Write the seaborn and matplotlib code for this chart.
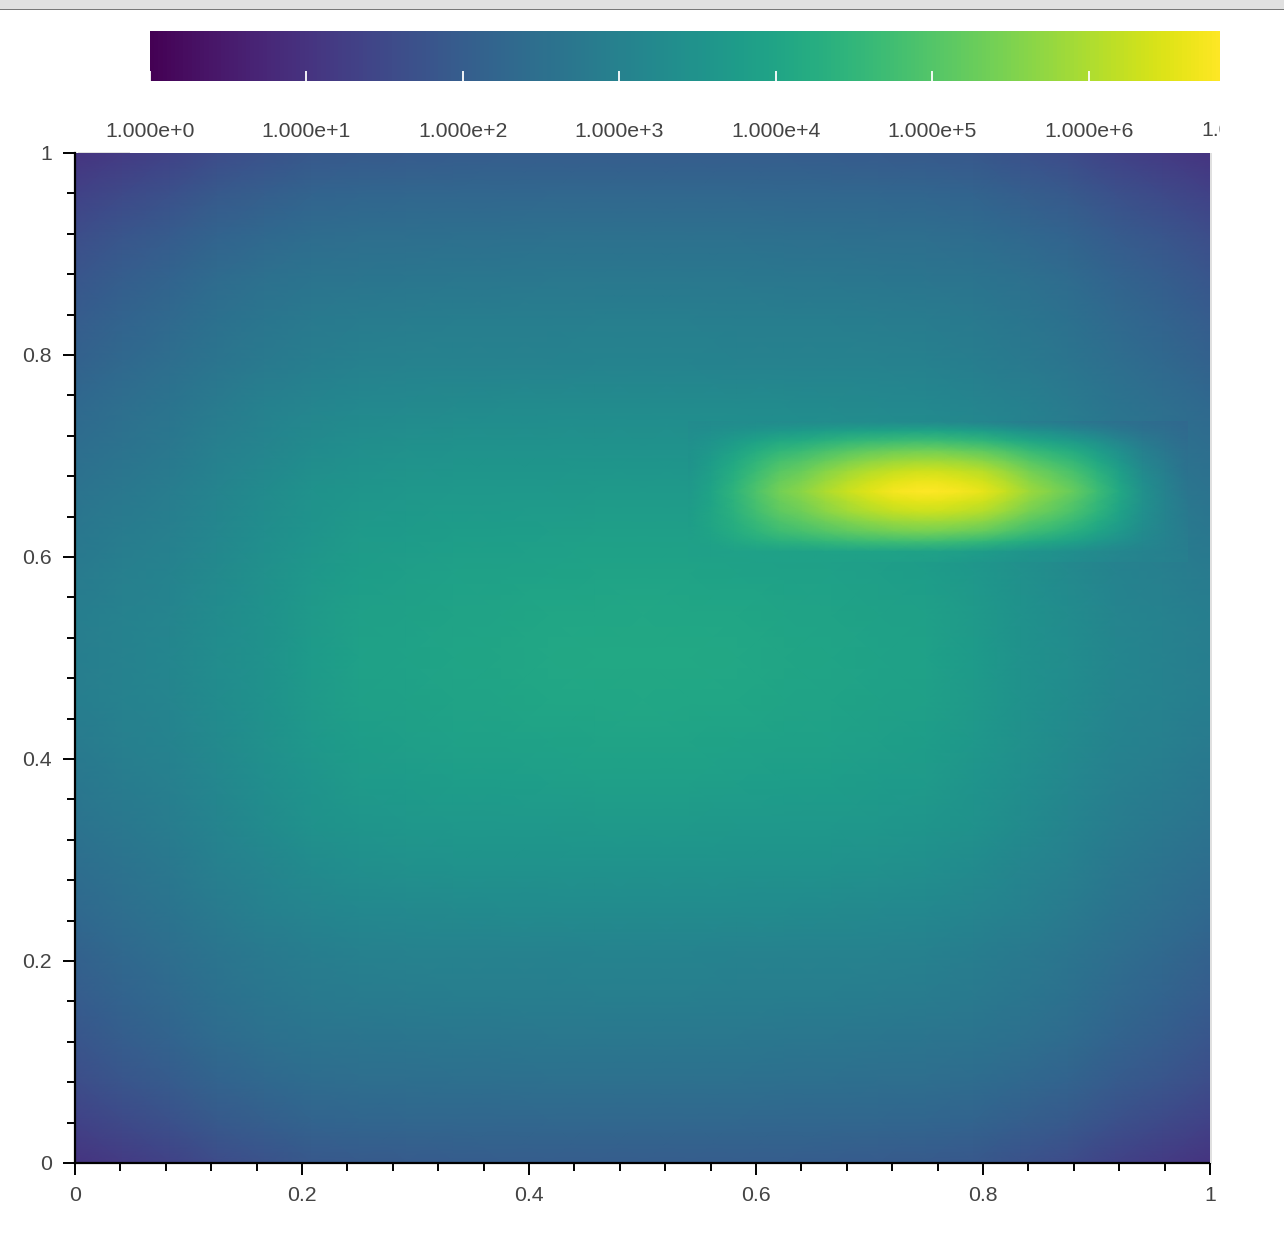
import matplotlib
matplotlib.use("Agg")
import matplotlib.pyplot as plt
import numpy as np
import seaborn as sns
from matplotlib.colors import LogNorm
from matplotlib.patches import Rectangle
from matplotlib.transforms import Bbox

# log10 of the field, top row first
background = [
    [1.02, 1.20, 1.35, 1.56, 1.72, 1.85, 1.92, 1.95, 1.97, 1.98, 1.99, 2.00, 2.00, 2.00, 1.99, 1.98, 1.97, 1.95, 1.92, 1.85, 1.72, 1.56, 1.35, 1.20, 1.02],
    [1.35, 1.54, 1.69, 1.90, 2.05, 2.17, 2.23, 2.25, 2.26, 2.27, 2.28, 2.28, 2.28, 2.28, 2.28, 2.27, 2.26, 2.25, 2.23, 2.17, 2.05, 1.90, 1.69, 1.54, 1.35],
    [1.62, 1.82, 1.97, 2.17, 2.31, 2.41, 2.46, 2.48, 2.50, 2.51, 2.52, 2.52, 2.52, 2.52, 2.52, 2.51, 2.50, 2.48, 2.46, 2.41, 2.31, 2.17, 1.97, 1.82, 1.62],
    [1.82, 2.02, 2.18, 2.38, 2.52, 2.62, 2.67, 2.69, 2.71, 2.72, 2.73, 2.73, 2.73, 2.73, 2.73, 2.72, 2.71, 2.69, 2.67, 2.62, 2.52, 2.38, 2.18, 2.02, 1.82],
    [1.99, 2.19, 2.35, 2.55, 2.69, 2.79, 2.84, 2.87, 2.89, 2.90, 2.91, 2.92, 2.92, 2.92, 2.91, 2.90, 2.89, 2.87, 2.84, 2.79, 2.69, 2.55, 2.35, 2.19, 1.99],
    [2.13, 2.32, 2.47, 2.66, 2.80, 2.91, 2.97, 3.00, 3.02, 3.03, 3.04, 3.05, 3.05, 3.05, 3.04, 3.03, 3.02, 3.00, 2.97, 2.91, 2.80, 2.66, 2.47, 2.32, 2.13],
    [2.30, 2.48, 2.63, 2.82, 2.98, 3.10, 3.18, 3.22, 3.25, 3.26, 3.27, 3.27, 3.27, 3.27, 3.27, 3.26, 3.25, 3.22, 3.18, 3.10, 2.98, 2.82, 2.63, 2.48, 2.30],
    [2.44, 2.61, 2.74, 2.95, 3.12, 3.28, 3.38, 3.42, 3.45, 3.47, 3.48, 3.48, 3.48, 3.48, 3.48, 3.47, 3.45, 3.42, 3.38, 3.28, 3.12, 2.95, 2.74, 2.61, 2.44],
    [2.60, 2.75, 2.88, 3.08, 3.26, 3.45, 3.58, 3.61, 3.64, 3.64, 3.66, 3.67, 3.67, 3.67, 3.66, 3.64, 3.64, 3.61, 3.58, 3.45, 3.26, 3.08, 2.88, 2.75, 2.60],
    [2.71, 2.84, 2.96, 3.16, 3.34, 3.54, 3.69, 3.73, 3.77, 3.78, 3.81, 3.83, 3.83, 3.83, 3.81, 3.78, 3.77, 3.73, 3.69, 3.54, 3.34, 3.16, 2.96, 2.84, 2.71],
    [2.81, 2.94, 3.05, 3.25, 3.43, 3.64, 3.79, 3.84, 3.89, 3.91, 3.95, 3.96, 3.97, 3.96, 3.95, 3.91, 3.89, 3.84, 3.79, 3.64, 3.43, 3.25, 3.05, 2.94, 2.81],
    [2.89, 3.01, 3.12, 3.31, 3.49, 3.71, 3.86, 3.92, 3.97, 4.00, 4.04, 4.06, 4.07, 4.06, 4.04, 4.00, 3.97, 3.92, 3.86, 3.71, 3.49, 3.31, 3.12, 3.01, 2.89],
    [2.90, 3.02, 3.13, 3.32, 3.50, 3.72, 3.88, 3.94, 4.00, 4.03, 4.07, 4.09, 4.10, 4.09, 4.07, 4.03, 4.00, 3.94, 3.88, 3.72, 3.50, 3.32, 3.13, 3.02, 2.90],
    [2.89, 3.01, 3.12, 3.31, 3.49, 3.71, 3.86, 3.92, 3.97, 4.00, 4.04, 4.06, 4.07, 4.06, 4.04, 4.00, 3.97, 3.92, 3.86, 3.71, 3.49, 3.31, 3.12, 3.01, 2.89],
    [2.81, 2.94, 3.05, 3.25, 3.43, 3.64, 3.79, 3.84, 3.89, 3.91, 3.95, 3.96, 3.97, 3.96, 3.95, 3.91, 3.89, 3.84, 3.79, 3.64, 3.43, 3.25, 3.05, 2.94, 2.81],
    [2.71, 2.84, 2.96, 3.16, 3.34, 3.54, 3.69, 3.73, 3.77, 3.78, 3.81, 3.83, 3.83, 3.83, 3.81, 3.78, 3.77, 3.73, 3.69, 3.54, 3.34, 3.16, 2.96, 2.84, 2.71],
    [2.60, 2.75, 2.88, 3.08, 3.26, 3.45, 3.58, 3.61, 3.64, 3.64, 3.66, 3.67, 3.67, 3.67, 3.66, 3.64, 3.64, 3.61, 3.58, 3.45, 3.26, 3.08, 2.88, 2.75, 2.60],
    [2.44, 2.61, 2.74, 2.95, 3.12, 3.28, 3.38, 3.42, 3.45, 3.47, 3.48, 3.48, 3.48, 3.48, 3.48, 3.47, 3.45, 3.42, 3.38, 3.28, 3.12, 2.95, 2.74, 2.61, 2.44],
    [2.30, 2.48, 2.63, 2.82, 2.98, 3.10, 3.18, 3.22, 3.25, 3.26, 3.27, 3.27, 3.27, 3.27, 3.27, 3.26, 3.25, 3.22, 3.18, 3.10, 2.98, 2.82, 2.63, 2.48, 2.30],
    [2.13, 2.32, 2.47, 2.66, 2.80, 2.91, 2.97, 3.00, 3.02, 3.03, 3.04, 3.05, 3.05, 3.05, 3.04, 3.03, 3.02, 3.00, 2.97, 2.91, 2.80, 2.66, 2.47, 2.32, 2.13],
    [1.99, 2.19, 2.35, 2.55, 2.69, 2.79, 2.84, 2.87, 2.89, 2.90, 2.91, 2.92, 2.92, 2.92, 2.91, 2.90, 2.89, 2.87, 2.84, 2.79, 2.69, 2.55, 2.35, 2.19, 1.99],
    [1.82, 2.02, 2.18, 2.38, 2.52, 2.62, 2.67, 2.69, 2.71, 2.72, 2.73, 2.73, 2.73, 2.73, 2.73, 2.72, 2.71, 2.69, 2.67, 2.62, 2.52, 2.38, 2.18, 2.02, 1.82],
    [1.62, 1.82, 1.97, 2.17, 2.31, 2.41, 2.46, 2.48, 2.50, 2.51, 2.52, 2.52, 2.52, 2.52, 2.52, 2.51, 2.50, 2.48, 2.46, 2.41, 2.31, 2.17, 1.97, 1.82, 1.62],
    [1.35, 1.54, 1.69, 1.90, 2.05, 2.17, 2.23, 2.25, 2.26, 2.27, 2.28, 2.28, 2.28, 2.28, 2.28, 2.27, 2.26, 2.25, 2.23, 2.17, 2.05, 1.90, 1.69, 1.54, 1.35],
    [1.02, 1.20, 1.35, 1.56, 1.72, 1.85, 1.92, 1.95, 1.97, 1.98, 1.99, 2.00, 2.00, 2.00, 1.99, 1.98, 1.97, 1.95, 1.92, 1.85, 1.72, 1.56, 1.35, 1.20, 1.02],
]

# finer cells around the bright spot
hot_spot = [
    [3.28, 3.28, 3.27, 3.26, 3.25, 3.25, 3.25, 3.24, 3.23, 3.21, 3.20, 3.17, 3.10, 3.02, 2.93, 2.83, 2.76, 2.67, 2.57, 2.48, 2.41, 2.36, 2.29],
    [3.33, 3.39, 3.47, 3.56, 3.66, 3.72, 3.80, 3.87, 3.93, 3.97, 4.00, 3.99, 3.90, 3.80, 3.66, 3.48, 3.34, 3.17, 2.98, 2.77, 2.58, 2.46, 2.34],
    [3.39, 3.53, 3.72, 3.93, 4.12, 4.22, 4.37, 4.50, 4.60, 4.67, 4.71, 4.69, 4.61, 4.50, 4.30, 4.07, 3.90, 3.70, 3.43, 3.12, 2.80, 2.60, 2.40],
    [3.45, 3.65, 3.93, 4.24, 4.51, 4.67, 4.88, 5.07, 5.22, 5.33, 5.39, 5.38, 5.29, 5.17, 4.92, 4.63, 4.42, 4.17, 3.82, 3.41, 2.98, 2.72, 2.46],
    [3.50, 3.75, 4.09, 4.47, 4.81, 5.00, 5.26, 5.49, 5.68, 5.82, 5.90, 5.89, 5.80, 5.66, 5.38, 5.05, 4.80, 4.52, 4.11, 3.63, 3.12, 2.81, 2.51],
    [3.55, 3.84, 4.24, 4.67, 5.07, 5.29, 5.60, 5.86, 6.08, 6.25, 6.34, 6.34, 6.24, 6.10, 5.78, 5.41, 5.14, 4.82, 4.37, 3.83, 3.25, 2.89, 2.56],
    [3.61, 3.92, 4.35, 4.83, 5.25, 5.49, 5.82, 6.11, 6.34, 6.53, 6.63, 6.63, 6.53, 6.38, 6.04, 5.66, 5.37, 5.03, 4.55, 3.98, 3.36, 2.98, 2.62],
    [3.66, 3.99, 4.44, 4.94, 5.39, 5.64, 5.99, 6.29, 6.54, 6.74, 6.85, 6.85, 6.74, 6.59, 6.24, 5.84, 5.54, 5.19, 4.69, 4.09, 3.44, 3.04, 2.67],
    [3.70, 4.00, 4.40, 4.85, 5.25, 5.48, 5.79, 6.06, 6.29, 6.47, 6.55, 6.55, 6.45, 6.31, 5.99, 5.62, 5.34, 5.02, 4.56, 4.01, 3.42, 3.05, 2.71],
    [3.75, 4.02, 4.38, 4.78, 5.14, 5.34, 5.62, 5.86, 6.06, 6.22, 6.29, 6.29, 6.19, 6.06, 5.76, 5.42, 5.16, 4.86, 4.44, 3.94, 3.40, 3.07, 2.76],
    [3.79, 4.01, 4.30, 4.62, 4.91, 5.08, 5.31, 5.50, 5.66, 5.79, 5.85, 5.84, 5.75, 5.62, 5.36, 5.07, 4.84, 4.58, 4.22, 3.80, 3.35, 3.07, 2.80],
    [3.82, 3.99, 4.21, 4.46, 4.69, 4.82, 4.99, 5.14, 5.26, 5.36, 5.40, 5.39, 5.30, 5.19, 4.96, 4.71, 4.52, 4.30, 4.00, 3.65, 3.28, 3.05, 2.83],
    [3.86, 3.95, 4.08, 4.21, 4.33, 4.40, 4.50, 4.58, 4.65, 4.69, 4.71, 4.69, 4.61, 4.51, 4.35, 4.16, 4.03, 3.86, 3.65, 3.41, 3.18, 3.03, 2.87],
    [3.86, 3.87, 3.88, 3.90, 3.91, 3.92, 3.94, 3.94, 3.94, 3.93, 3.92, 3.90, 3.84, 3.76, 3.66, 3.54, 3.46, 3.36, 3.25, 3.14, 3.05, 2.98, 2.90],
    [3.92, 3.92, 3.91, 3.90, 3.89, 3.89, 3.89, 3.88, 3.87, 3.85, 3.84, 3.81, 3.74, 3.66, 3.57, 3.47, 3.40, 3.31, 3.21, 3.12, 3.05, 3.00, 2.93],
]

axis_ticks = [0, 0.2, 0.4, 0.6, 0.8, 1]
axis_labels = ["0", "0.2", "0.4", "0.6", "0.8", "1"]
axis_minor = [0.04, 0.08, 0.12, 0.16, 0.24, 0.28, 0.32, 0.36, 0.44, 0.48, 0.52, 0.56,
              0.64, 0.68, 0.72, 0.76, 0.84, 0.88, 0.92, 0.96]
color_ticks = [1e0, 1e1, 1e2, 1e3, 1e4, 1e5, 1e6]
color_labels = ["1.000e+0", "1.000e+1", "1.000e+2", "1.000e+3", "1.000e+4", "1.000e+5", "1.000e+6"]
color_max = 10 ** 6.84

W, H = 1284, 1244
TEXT = "#444444"

sns.set_theme(style="white")
plt.rcParams["font.family"] = ["Liberation Sans", "DejaVu Sans"]


def px_axes(fig, left, top, right, bottom):
    return fig.add_axes([left / W, 1 - bottom / H, (right - left) / W, (bottom - top) / H])


fig = plt.figure(figsize=(W / 100, H / 100), dpi=100)
norm = LogNorm(vmin=1, vmax=color_max)

ax = px_axes(fig, 75, 153, 1210, 1163)
cax = px_axes(fig, 150, 31, 1220, 81)
field = 10 ** np.array(background)
# gouraud treats the table as grid nodes, so the limits run to n - 1
sns.heatmap(field, ax=ax, cmap="viridis", norm=norm, cbar_ax=cax, shading="gouraud",
            cbar_kws={"orientation": "horizontal"},
            xticklabels=False, yticklabels=False)
n_rows, n_cols = field.shape
ax.set_xlim(0, n_cols - 1)
ax.set_ylim(n_rows - 1, 0)

# bright spot sits on its own axes over the field
spot = 10 ** np.array(hot_spot)
hot_ax = px_axes(fig, 688.3, 421, 1188.4, 562)
sns.heatmap(spot, ax=hot_ax, cmap="viridis", norm=norm, cbar=False, shading="gouraud",
            xticklabels=False, yticklabels=False)
hot_ax.set_xlim(0, spot.shape[1] - 1)
hot_ax.set_ylim(spot.shape[0] - 1, 0)
hot_ax.axis("off")

ax.set_xticks(np.array(axis_ticks) * (n_cols - 1), labels=axis_labels)
ax.set_xticks(np.array(axis_minor) * (n_cols - 1), minor=True)
ax.set_yticks((1 - np.array(axis_ticks)) * (n_rows - 1), labels=axis_labels)
ax.set_yticks((1 - np.array(axis_minor)) * (n_rows - 1), minor=True)
ax.tick_params(which="major", length=8.6, width=1.4, color="black", labelsize=15.3,
               labelcolor=TEXT, pad=8, bottom=True, left=True)
ax.tick_params(which="minor", length=5.8, width=1.4, color="black", bottom=True, left=True)
for name in ["top", "right"]:
    ax.spines[name].set_visible(False)
for name in ["left", "bottom"]:
    ax.spines[name].set_visible(True)
    ax.spines[name].set_color("black")
    ax.spines[name].set_linewidth(1.6)
plt.setp(ax.get_yticklabels(), rotation=0)
plt.setp(ax.get_xticklabels(), rotation=0)

cbar = ax.collections[0].colorbar
cbar.set_ticks(color_ticks, labels=color_labels)
cbar.ax.minorticks_off()
cbar.ax.set_axisbelow(False)
cbar.ax.tick_params(axis="x", direction="in", length=7, width=1.3, color="white",
                    labelsize=15.3, labelcolor=TEXT, pad=29.7, bottom=True)

# next colorbar label runs off the panel and gets cut
cut = fig.text(1246 / W, 1 - 130 / H, "1.000e+7", fontsize=15.3, color=TEXT, ha="center", va="center")
cut.set_clip_on(True)
cut.set_clip_box(Bbox.from_extents(0, 0, 1220, H))

# window chrome around the plot
fig.add_artist(Rectangle((0, 1 - 9 / H), 1, 9 / H, transform=fig.transFigure, color="#e0e0e0", lw=0))
fig.add_artist(Rectangle((0, 1 - 10 / H), 1, 1 / H, transform=fig.transFigure, color="#777777", lw=0))
fig.add_artist(Rectangle((1210 / W, 1 - 1163 / H), 2 / W, 1010 / H, transform=fig.transFigure,
                         color="#e0e0e0", lw=0))
fig.add_artist(Rectangle((78 / W, 1 - 153 / H), 52 / W, 1 / H, transform=fig.transFigure,
                         color="#e0e0e0", lw=0))

fig.savefig("out.png", dpi=100)
